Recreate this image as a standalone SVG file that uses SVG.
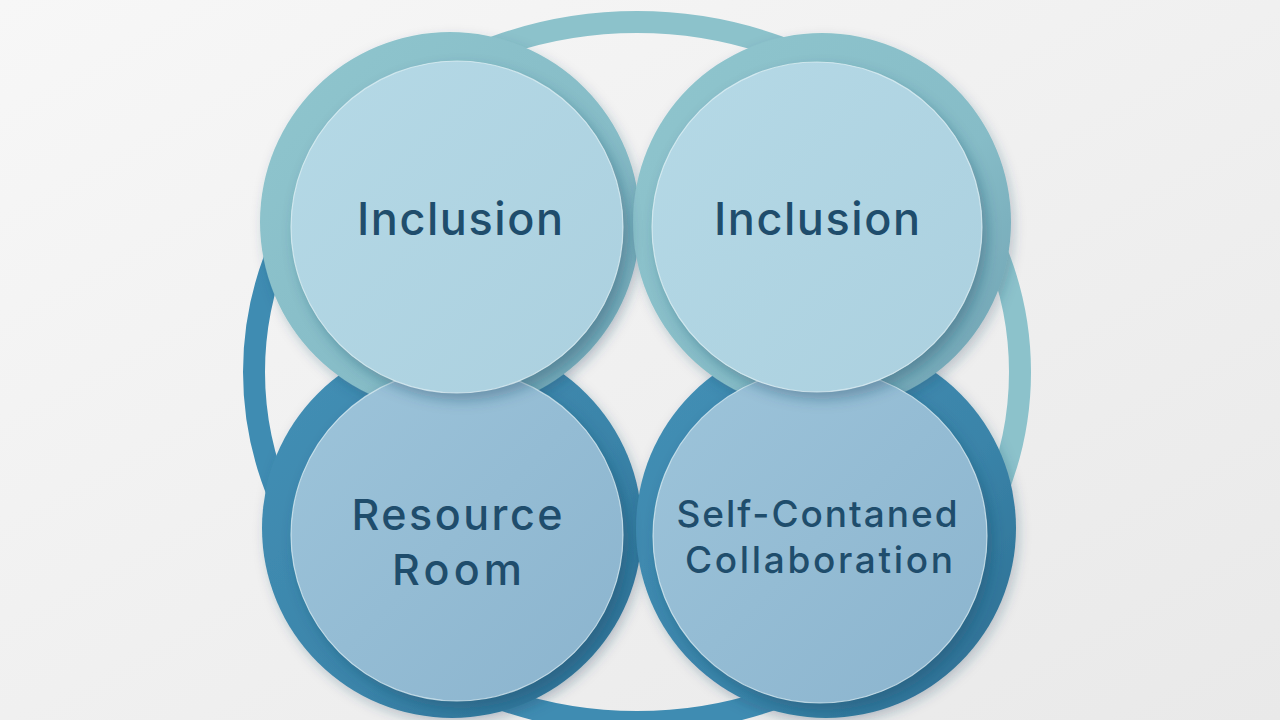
<svg xmlns="http://www.w3.org/2000/svg" width="1280" height="720" viewBox="0 0 1280 720">
  <defs>
    <linearGradient id="bg" x1="0" y1="0" x2="1" y2="1">
      <stop offset="0" stop-color="#f7f7f7"/>
      <stop offset="1" stop-color="#e9e9e9"/>
    </linearGradient>
    <linearGradient id="ringGrad" gradientUnits="userSpaceOnUse" x1="270" y1="300" x2="420" y2="60">
      <stop offset="0" stop-color="#3f8cb2"/>
      <stop offset="0.45" stop-color="#4590b4"/>
      <stop offset="0.65" stop-color="#8cc2cb"/>
      <stop offset="1" stop-color="#8cc2cb"/>
    </linearGradient>
    <linearGradient id="topOuter" x1="0" y1="0" x2="1" y2="1">
      <stop offset="0" stop-color="#90c6ce"/>
      <stop offset="0.6" stop-color="#86bcc7"/>
      <stop offset="1" stop-color="#6c9fb0"/>
    </linearGradient>
    <linearGradient id="bottomOuter" x1="0" y1="0" x2="1" y2="1">
      <stop offset="0" stop-color="#4490b6"/>
      <stop offset="0.6" stop-color="#3a84a9"/>
      <stop offset="1" stop-color="#2a6b8f"/>
    </linearGradient>
    <linearGradient id="topInner" x1="0" y1="0" x2="1" y2="1">
      <stop offset="0" stop-color="#b5d9e6"/>
      <stop offset="1" stop-color="#abd0df"/>
    </linearGradient>
    <linearGradient id="bottomInner" x1="0" y1="0" x2="1" y2="1">
      <stop offset="0" stop-color="#9dc4da"/>
      <stop offset="1" stop-color="#8bb4ce"/>
    </linearGradient>
    <filter id="shadow" x="-20%" y="-20%" width="140%" height="140%">
      <feDropShadow dx="5" dy="7" stdDeviation="7" flood-color="#1b4a62" flood-opacity="0.38"/>
    </filter>
    <filter id="softShadow" x="-20%" y="-20%" width="140%" height="140%">
      <feDropShadow dx="3" dy="5" stdDeviation="6" flood-color="#1b4a62" flood-opacity="0.25"/>
    </filter>
  </defs>
  <style>
    .label { font-family: Inter, "Noto Sans", "Liberation Sans", sans-serif; font-weight: 500; fill: #1f4d6c; text-anchor: middle; }
    .big { font-size: 45px; }
    .mid { font-size: 43px; }
    .small { font-size: 37px; }
    .hl { fill: none; stroke: #e6f4f8; stroke-width: 1.2; stroke-opacity: 0.7; }
  </style>

  <rect width="1280" height="720" fill="url(#bg)"/>

  <g id="connectors">
    <ellipse id="outer-ring" cx="637" cy="372" rx="383" ry="350" fill="none" stroke="url(#ringGrad)" stroke-width="22"/>
  </g>

  <g id="outer-discs">
    <circle cx="452" cy="528" r="190" fill="url(#bottomOuter)" filter="url(#softShadow)"/>
    <circle cx="826" cy="528" r="190" fill="url(#bottomOuter)" filter="url(#softShadow)"/>
    <circle cx="450" cy="222" r="190" fill="url(#topOuter)" filter="url(#softShadow)"/>
    <circle cx="822" cy="222" r="189" fill="url(#topOuter)" filter="url(#softShadow)"/>
  </g>

  <g id="node-resource-room">
    <circle cx="457" cy="535" r="166" fill="url(#bottomInner)" filter="url(#shadow)"/>
    <circle cx="457" cy="535" r="166" class="hl"/>
    <text class="label mid" x="457" y="530" textLength="211" lengthAdjust="spacing">Resource</text>
    <text class="label mid" x="457" y="585" textLength="130" lengthAdjust="spacing">Room</text>
  </g>

  <g id="node-self-contained">
    <circle cx="820" cy="536" r="167" fill="url(#bottomInner)" filter="url(#shadow)"/>
    <circle cx="820" cy="536" r="167" class="hl"/>
    <text class="label small" x="817" y="527" textLength="281" lengthAdjust="spacing">Self-Contaned</text>
    <text class="label small" x="819" y="573" textLength="268" lengthAdjust="spacing">Collaboration</text>
  </g>

  <g id="node-inclusion-1">
    <circle cx="457" cy="227" r="166" fill="url(#topInner)" filter="url(#shadow)"/>
    <circle cx="457" cy="227" r="166" class="hl"/>
    <text class="label big" x="460" y="235" textLength="206" lengthAdjust="spacing">Inclusion</text>
  </g>

  <g id="node-inclusion-2">
    <circle cx="817" cy="227" r="165" fill="url(#topInner)" filter="url(#shadow)"/>
    <circle cx="817" cy="227" r="165" class="hl"/>
    <text class="label big" x="817" y="235" textLength="206" lengthAdjust="spacing">Inclusion</text>
  </g>
</svg>
